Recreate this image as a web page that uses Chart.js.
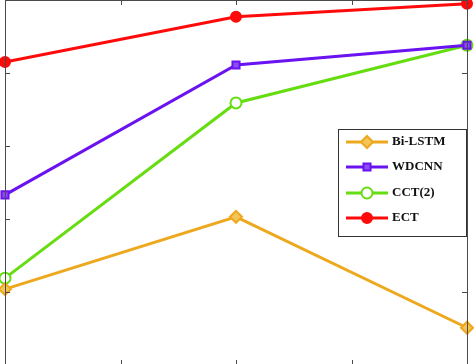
<!DOCTYPE html>
<html>
<head>
<meta charset="utf-8">
<script src="https://cdn.jsdelivr.net/npm/chart.js@4"></script>
<style>
html,body{margin:0;padding:0;background:#fff;overflow:hidden;}
#wrap{position:absolute;left:0;top:0;width:474px;height:366px;}
</style>
</head>
<body>
<div id="wrap"><canvas id="c" width="474" height="366"></canvas></div>
<script>
// ---- data ----
const categories = [1, 2, 3];
const seriesNames = ['Bi-LSTM', 'WDCNN', 'CCT(2)', 'ECT'];
const biLstm = [1.04, 2.03, 0.51];
const wdcnn  = [2.33, 4.11, 4.38];
const cct2   = [1.19, 3.59, 4.38];
const ect    = [4.15, 4.77, 4.95];
const xTicks = [1, 1.5, 2, 2.5, 3];
const yTicks = [0, 1, 2, 3, 4, 5];

// ---- styles ----
const colors = ['#EDA81E', '#6A12F0', '#66DD11', '#FF0A0A'];
const fills  = ['#F3C457', '#8C4CF4', '#ffffff', '#FF0A0A'];
const styles = ['rectRot', 'rect', 'circle', 'circle'];
const radii  = [6, 5, 5.5, 5];
const values = [biLstm, wdcnn, cct2, ect];

const datasets = seriesNames.map((name, i) => ({
  label: name,
  data: categories.map((x, j) => ({x: x, y: values[i][j]})),
  borderColor: colors[i],
  backgroundColor: fills[i],
  pointBackgroundColor: fills[i],
  pointBorderColor: colors[i],
  pointBorderWidth: 2,
  pointStyle: styles[i],
  pointRadius: radii[i],
  borderWidth: 3,
  tension: 0,
  clip: false
}));

const frame = {
  id: 'frame',
  afterDatasetsDraw(chart) {
    const ctx = chart.ctx, a = chart.chartArea;
    const xs = chart.scales.x, ys = chart.scales.y;
    ctx.save();
    ctx.strokeStyle = '#4a4a4a';
    ctx.lineWidth = 1;
    ctx.strokeRect(Math.round(a.left) + 0.5, Math.round(a.top) + 0.5, Math.round(a.right - a.left), Math.round(a.bottom - a.top));
    const L = 5;
    ctx.beginPath();
    xTicks.forEach(v => {
      const px = Math.round(xs.getPixelForValue(v)) + 0.5;
      ctx.moveTo(px, a.top); ctx.lineTo(px, a.top + L);
      ctx.moveTo(px, a.bottom); ctx.lineTo(px, a.bottom - L);
    });
    yTicks.forEach(v => {
      const py = Math.round(ys.getPixelForValue(v)) + 0.5;
      ctx.moveTo(a.left, py); ctx.lineTo(a.left + L, py);
      ctx.moveTo(a.right, py); ctx.lineTo(a.right - L, py);
    });
    ctx.stroke();
    ctx.restore();
  }
};

const boxLegend = {
  id: 'boxLegend',
  afterDraw(chart) {
    const ctx = chart.ctx;
    const bx = 338.5, by = 129.5, bw = 128, bh = 107;
    ctx.save();
    ctx.fillStyle = '#fff';
    ctx.fillRect(bx, by, bw, bh);
    ctx.strokeStyle = '#333';
    ctx.lineWidth = 1;
    ctx.strokeRect(bx, by, bw, bh);
    const rowY = [142, 167, 193, 218];
    chart.data.datasets.forEach((ds, i) => {
      const y = rowY[i];
      ctx.strokeStyle = ds.borderColor;
      ctx.lineWidth = 3;
      ctx.beginPath();
      ctx.moveTo(346, y); ctx.lineTo(388, y);
      ctx.stroke();
      ctx.fillStyle = ds.pointBackgroundColor;
      ctx.strokeStyle = ds.pointBorderColor;
      ctx.lineWidth = 2;
      Chart.helpers.drawPoint(ctx, {pointStyle: ds.pointStyle, radius: ds.pointRadius, borderWidth: 2, rotation: 0}, 367, y);
      ctx.fillStyle = '#111';
      ctx.font = 'bold 13px "Liberation Serif", "Times New Roman", serif';
      ctx.textBaseline = 'middle';
      ctx.textAlign = 'left';
      ctx.fillText(ds.label, 392, y);
    });
    ctx.restore();
  }
};

new Chart(document.getElementById('c'), {
  type: 'line',
  data: {datasets: datasets},
  options: {
    responsive: false,
    animation: false,
    layout: {autoPadding: false, padding: {left: 5, right: 7, top: 0, bottom: 1}},
    plugins: {legend: {display: false}, tooltip: {enabled: false}},
    scales: {
      x: {type: 'linear', min: 1, max: 3, display: false},
      y: {type: 'linear', min: 0, max: 5, display: false}
    }
  },
  plugins: [frame, boxLegend]
});
</script>
</body>
</html>
